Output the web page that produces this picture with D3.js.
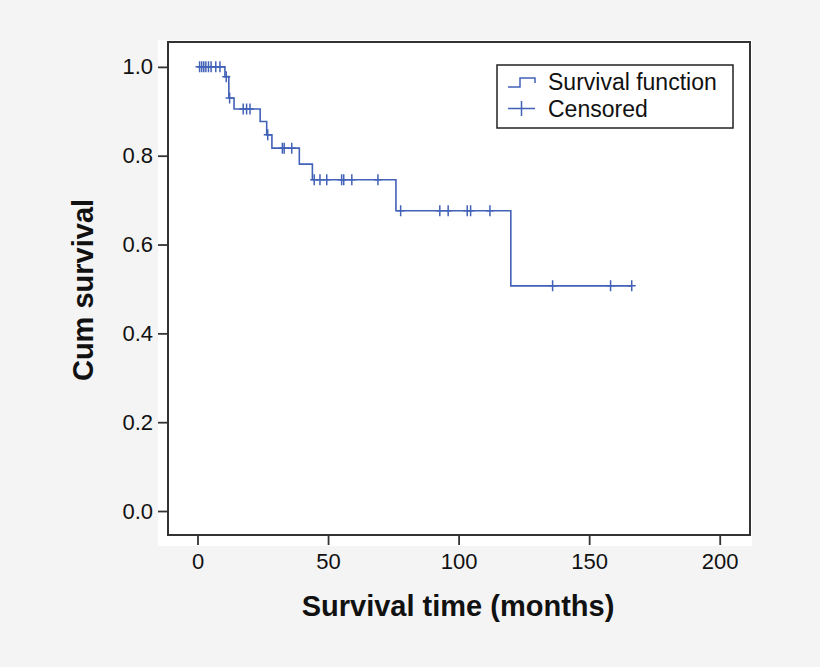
<!DOCTYPE html>
<html>
<head>
<meta charset="utf-8">
<script src="https://cdn.jsdelivr.net/npm/d3@7"></script>
<style>
  body { margin: 0; background: #f4f4f4; }
  svg { display: block; font-family: "Liberation Sans", Arial, sans-serif; }
</style>
</head>
<body>
<div id="chart"></div>
<script>
// step changes of the survival curve: time (months) and level after the drop
const eventTimes = [10.5, 12.0, 14.0, 24.0, 26.5, 28.5, 39.0, 44.0, 76.0, 120.0];
const eventSurvival = [0.978, 0.930, 0.905, 0.877, 0.847, 0.817, 0.781, 0.746, 0.676, 0.507];

// censored cases (months)
const censoredTimes = [0.8, 1.6, 2.4, 3.2, 4.2, 5.2, 7.0, 8.6, 11.0, 12.3,
  17.5, 18.8, 20.1, 26.9, 32.5, 33.2, 36.1,
  44.7, 46.9, 49.5, 55.2, 56.0, 59.1, 69.1,
  77.8, 92.8, 96.0, 103.3, 104.6, 112.0,
  136.0, 158.2, 166.3];

const xTicks = [0, 50, 100, 150, 200];
const yTicks = [0.0, 0.2, 0.4, 0.6, 0.8, 1.0];
const legendLabels = ["Survival function", "Censored"];

const width = 820, height = 667;
const blue = "#4262b8";
const frame = "#333";

let x = d3.scaleLinear().domain([-11.3, 211.6]).range([168, 750]);
let y = d3.scaleLinear().domain([-0.054, 1.056]).range([535, 42]);

// survival at time t (right-continuous step)
function survivalAt(t) {
    let s = 1;
    eventTimes.forEach((et, i) => { if (et <= t) s = eventSurvival[i]; });
    return s;
}

let svg = d3.select("#chart").append("svg")
    .attr("width", width)
    .attr("height", height);

svg.append("rect")
    .attr("width", width).attr("height", height)
    .attr("fill", "#f4f4f4");

// white chart area
svg.append("rect")
    .attr("x", 158).attr("y", 40)
    .attr("width", 594).attr("height", 506)
    .attr("fill", "#fff");

// curve
let lastTime = censoredTimes[censoredTimes.length - 1];
let pts = [[0, 1]];
eventTimes.forEach((t, i) => pts.push([t, eventSurvival[i]]));
pts.push([lastTime, eventSurvival[eventSurvival.length - 1]]);

let line = d3.line()
    .x(d => x(d[0]))
    .y(d => y(d[1]))
    .curve(d3.curveStepAfter);

svg.append("path")
    .attr("d", line(pts))
    .attr("fill", "none")
    .attr("stroke", blue)
    .attr("stroke-width", 1.6);

// censor marks
let marks = svg.append("g").classed("censored", true)
    .selectAll("path")
    .data(censoredTimes)
    .enter()
    .append("path")
    .attr("transform", t => "translate(" + x(t) + "," + y(survivalAt(t)) + ")")
    .attr("d", "M0,-5.5V5.5M-4,0H4")
    .attr("fill", "none")
    .attr("stroke", blue)
    .attr("stroke-width", 1.5);

// axes
let xAxis = svg.append("g")
    .attr("transform", "translate(0,535)")
    .call(d3.axisBottom(x).tickValues(xTicks).tickSize(10).tickSizeOuter(0).tickPadding(8));

let yAxis = svg.append("g")
    .attr("transform", "translate(168,0)")
    .call(d3.axisLeft(y).tickValues(yTicks).tickFormat(d3.format(".1f")).tickSize(10).tickSizeOuter(0).tickPadding(5));

[xAxis, yAxis].forEach(ax => {
    ax.select(".domain").remove();
    ax.selectAll(".tick line").attr("stroke", frame).attr("stroke-width", 1.8);
    ax.selectAll(".tick text")
        .attr("fill", "#111")
        .style("font-size", "22px")
        .style("font-family", "'Liberation Sans', Arial, sans-serif");
});

// frame
svg.append("rect")
    .attr("x", x.range()[0]).attr("y", y.range()[1])
    .attr("width", x.range()[1] - x.range()[0])
    .attr("height", y.range()[0] - y.range()[1])
    .attr("fill", "none")
    .attr("stroke", frame)
    .attr("stroke-width", 2);

// axis titles
svg.append("text")
    .attr("x", 458).attr("y", 616)
    .attr("text-anchor", "middle")
    .style("font-size", "29px").style("font-weight", "bold")
    .attr("fill", "#111")
    .text("Survival time (months)");

svg.append("text")
    .attr("transform", "translate(93,290) rotate(-90)")
    .attr("text-anchor", "middle")
    .style("font-size", "29px").style("font-weight", "bold")
    .attr("fill", "#111")
    .text("Cum survival");

// legend
let legend = svg.append("g").classed("legend", true);
legend.append("rect")
    .attr("x", 497).attr("y", 65)
    .attr("width", 236).attr("height", 63)
    .attr("fill", "#fff")
    .attr("stroke", "#222")
    .attr("stroke-width", 1.5);

legend.append("path")
    .attr("d", "M508,87H520V78H535V83")
    .attr("fill", "none").attr("stroke", blue).attr("stroke-width", 1.5);
legend.append("path")
    .attr("d", "M508,108.5H535M521.5,101V116")
    .attr("fill", "none").attr("stroke", blue).attr("stroke-width", 1.5);

legend.selectAll("text.label")
    .data(legendLabels)
    .enter()
    .append("text")
    .classed("label", true)
    .attr("x", 548)
    .attr("y", (d, i) => 90 + i * 26.7)
    .style("font-size", "23px")
    .attr("fill", "#111")
    .text(d => d);
</script>
</body>
</html>
